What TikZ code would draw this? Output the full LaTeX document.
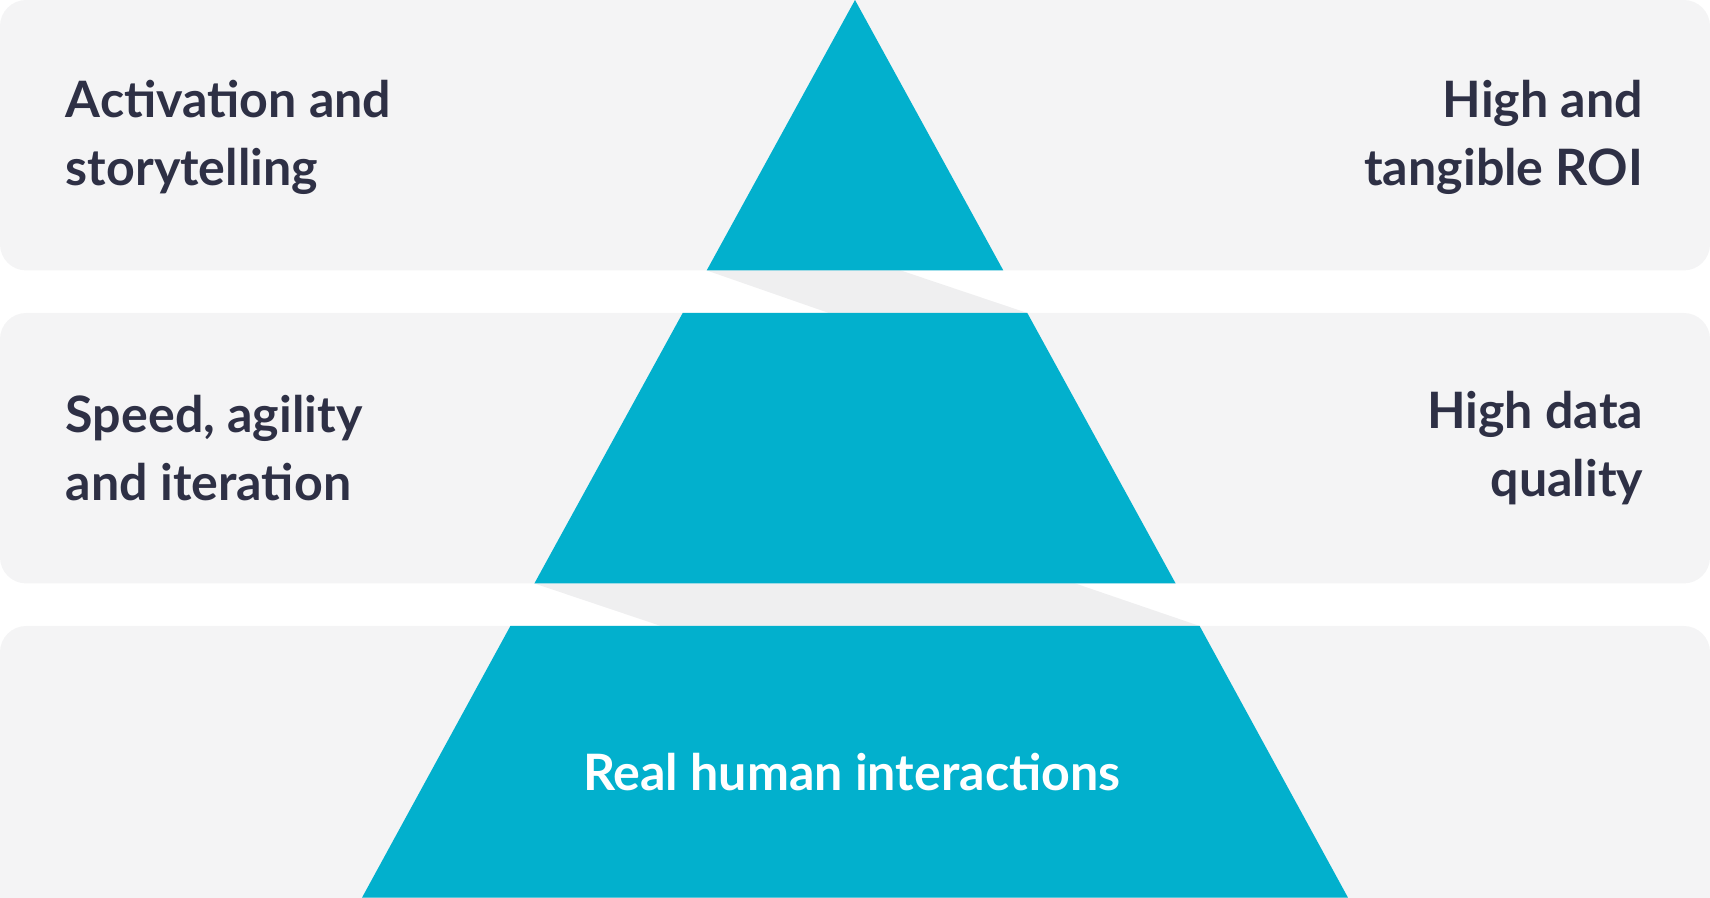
\documentclass[tikz,border=0pt]{standalone}
\usepackage{fontspec}
\setmainfont{Lato}
\definecolor{band}{HTML}{F4F4F5}
\definecolor{gap}{HTML}{EFEFF0}
\definecolor{teal}{HTML}{02B0CD}
\definecolor{ink}{HTML}{2E3045}
\begin{document}
\begin{tikzpicture}[x=0.5pt,y=-0.5pt,
  bandbox/.style={fill=band,draw=none,rounded corners=12pt},
  lbl/.style={font=\fontsize{23}{31}\selectfont\bfseries,text=ink,inner sep=0},
]
\useasboundingbox (0,0) rectangle (1568,823);
\clip (0,0) rectangle (1568,823);
\fill[bandbox] (0,0) rectangle (1568,248);
\fill[bandbox] (0,287) rectangle (1568,535);
\fill[bandbox] (0,574) rectangle (1568,870);
\fill[gap] (648,248) -- (826,248) -- (942,287) -- (760,287) -- cycle;
\fill[gap] (490,535) -- (986,535) -- (1100,574) -- (606,574) -- cycle;
\fill[teal] (784,0) -- (920,248) -- (648,248) -- cycle;
\fill[teal] (626,287) -- (942,287) -- (1078,535) -- (490,535) -- cycle;
\fill[teal] (468,574) -- (1100,574) -- (1236,823) -- (332,823) -- cycle;
\node[lbl,anchor=west,align=left] (t1) at (60,126) {Activation and\\storytelling};
\node[lbl,anchor=east,align=right] (t2) at (1507,126) {High and\\tangible ROI};
\node[lbl,anchor=west,align=left] (t3) at (60,411) {Speed, agility\\and iteration};
\node[lbl,anchor=east,align=right] (t4) at (1507,411) {High data\\quality};
\node[lbl,text=white] (t5) at (781,708) {Real human interactions};
\end{tikzpicture}
\end{document}
